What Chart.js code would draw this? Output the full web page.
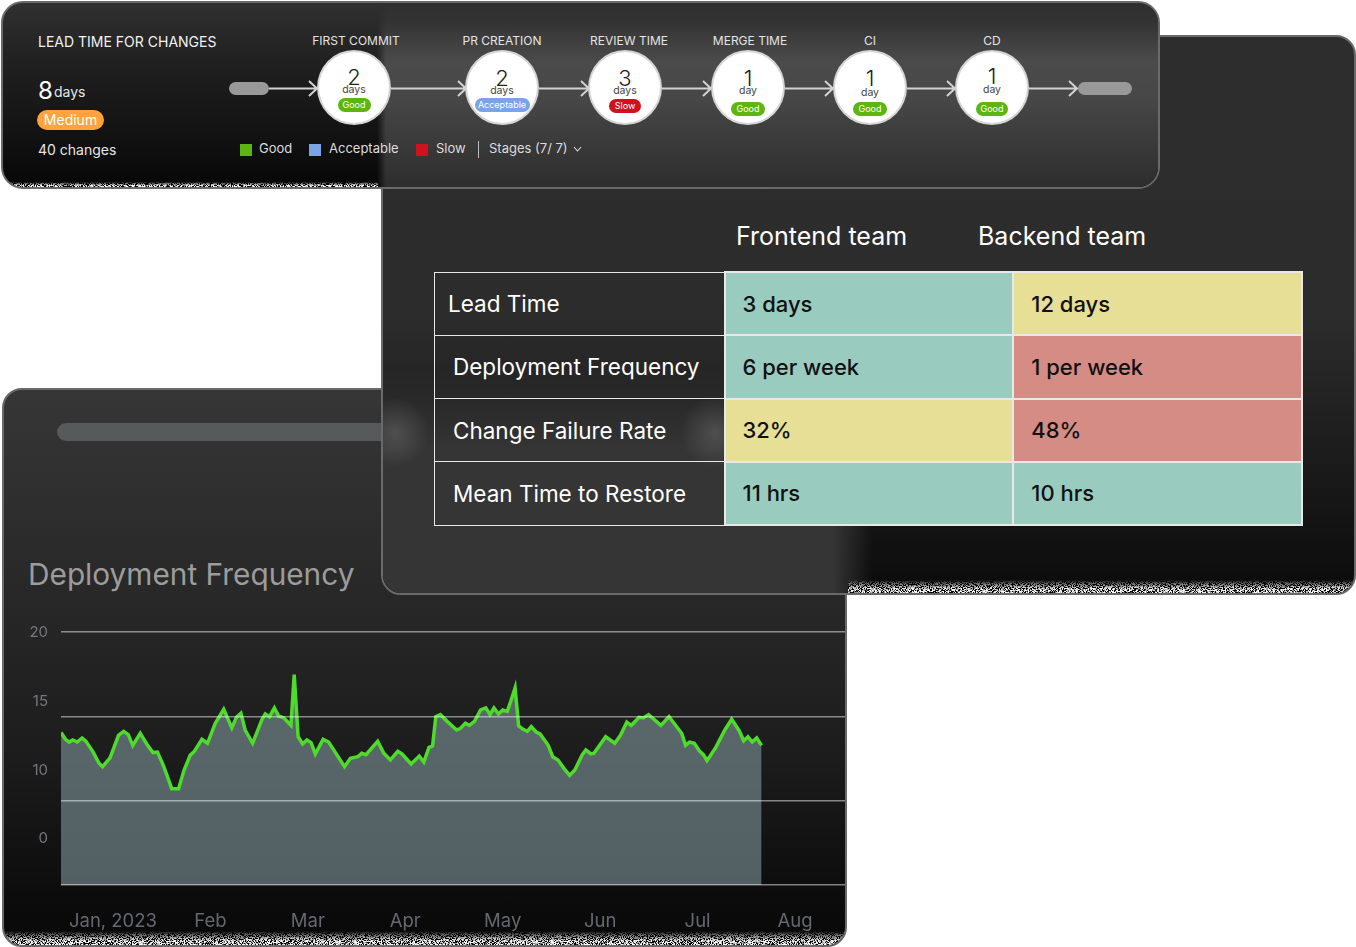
<!DOCTYPE html>
<html>
<head>
<meta charset="utf-8">
<title>Deployment Frequency</title>
<script src="https://cdn.jsdelivr.net/npm/chart.js@4/dist/chart.umd.min.js"></script>
<style>
    html, body { margin: 0; padding: 0; background: #fff; }
    body { width: 1356px; height: 947px; position: relative; overflow: hidden; font-family: Inter, "Noto Sans", sans-serif; }
    .panel { position: absolute; box-sizing: border-box; border: 2px solid #6a6a6a; overflow: hidden; }
    .abs { position: absolute; white-space: nowrap; line-height: 1; }
    .grain { position: absolute; left: 0; right: 0; background: #000; -webkit-mask-image: linear-gradient(to bottom, transparent, #000 70%); mask-image: linear-gradient(to bottom, transparent, #000 70%); }
    .grain svg { display: block; width: 100%; height: 100%; }
    #backPanel { left: 381px; top: 35px; width: 975px; height: 560px; border-radius: 20px; z-index: 2; background: linear-gradient(to bottom, #2d2d2d 0%, #2c2c2c 50%, #1c1c1c 75%, #0b0b0b 100%); }
    #glassLow { position: absolute; left: 0; top: 330px; width: 490px; height: 230px; background: #353535; -webkit-mask-image: linear-gradient(to right, #000 92%, transparent), linear-gradient(to bottom, transparent, #000 35%); -webkit-mask-composite: source-in; mask-image: linear-gradient(to right, #000 92%, transparent), linear-gradient(to bottom, transparent, #000 35%); mask-composite: intersect; }
    .blob { position: absolute; width: 70px; height: 70px; border-radius: 50%; background: radial-gradient(closest-side, rgba(255,255,255,0.15), rgba(255,255,255,0)); }
    #bottomPanel { left: 2px; top: 388px; width: 845px; height: 559px; border-radius: 20px; z-index: 1; background: linear-gradient(to bottom, #363636 0%, #262626 41.5%, #1c1c1c 66.5%, #0c0c0c 91.5%, #080808 100%); }
    #topPanel { left: 1px; top: 1px; width: 1159px; height: 188px; border-radius: 22px; z-index: 3; background: linear-gradient(to bottom, #303030 0%, #1f1f1f 35%, #111 75%, #070707 100%); }
    #topGlass { position: absolute; left: 374px; top: 0; bottom: 0; right: 0; background: linear-gradient(to bottom, #2f2f2f 0%, #333 10%, #4b4b4b 32%, #474747 52%, #353535 85%, #2e2e2e 100%); -webkit-mask-image: linear-gradient(to right, transparent, #000 9px); mask-image: linear-gradient(to right, transparent, #000 9px); }
    #trackBar { position: absolute; left: 53px; top: 33px; width: 342px; height: 18px; border-radius: 9px; background: #565a5a; }
    #deployChart { position: absolute; left: -2px; top: 222px; }
    #doraTable { position: absolute; left: 51px; top: 234px; width: 869px; height: 255px; border-collapse: collapse; table-layout: fixed; }
    #doraTable td { border: 2px solid #e8e8e8; font-size: 22px; font-weight: 500; padding: 0 0 0 17px; color: #111; box-sizing: border-box; }
    #doraTable td.name { color: #fff; font-size: 22.5px; font-weight: 400; width: 290px; border-width: 1.5px; }
    .circle { position: absolute; top: 47px; width: 74px; height: 75px; box-sizing: border-box; border-radius: 50%; background: #fff; border: 2px solid #d5d5d5; }
    .pill { position: absolute; border-radius: 7px; color: #fff; font-size: 9px; text-align: center; line-height: 14px; height: 14px; }
</style>
</head>
<body>

<div class="panel" id="bottomPanel">
    <div id="trackBar"></div>
    <div class="abs" style="left:24px; top:170px; font-size:29.8px; color:#9c9c9c;">Deployment Frequency</div>
    <canvas id="deployChart" width="845" height="328"></canvas>
    <div class="grain" style="bottom:0; height:14px;"><svg><rect width="100%" height="100%" filter="url(#grainFilter)"/></svg></div>
</div>

<div class="panel" id="backPanel">
    <div id="glassLow"></div>
    <div class="blob" style="left:-23px; top:360px;"></div>
    <div class="blob" style="left:297px; top:360px;"></div>
    <div class="abs" style="left:353px; top:187px; font-size:25px; color:#fff;">Frontend team</div>
    <div class="abs" style="left:595px; top:187px; font-size:25px; color:#fff;">Backend team</div>
    <table id="doraTable"><tbody id="doraBody"></tbody></table>
    <div class="grain" style="left:465px; bottom:0; height:13px;"><svg><rect width="100%" height="100%" filter="url(#grainFilter)"/></svg></div>
</div>

<div class="panel" id="topPanel">
    <div id="topGlass"></div>
    <div class="grain" style="right:780px; bottom:0; height:5px;"><svg><rect width="100%" height="100%" filter="url(#grainFilter)"/></svg></div>
    <div class="abs" style="left:35px; top:32px; font-size:14px; color:#f2f2f2;">LEAD TIME FOR CHANGES</div>
    <div class="abs" style="left:35px; top:76px; font-size:24px; color:#fff;">8</div>
    <div class="abs" style="left:51px; top:82px; font-size:14px; color:#e6e6e6;">days</div>
    <div class="abs" style="left:34px; top:107px; width:67px; height:20px; border-radius:10px; background:#ffa33a; color:#fff; font-size:14px; line-height:20px; text-align:center;">Medium</div>
    <div class="abs" style="left:35px; top:140px; font-size:14px; color:#e6e6e6;">40 changes</div>

    <div class="abs" style="left:237px; top:141px; width:12px; height:12px; background:#5db512;"></div>
    <div class="abs" style="left:256px; top:139px; font-size:13px; color:#dcdcdc;">Good</div>
    <div class="abs" style="left:306px; top:141px; width:12px; height:12px; background:#7ba3e8;"></div>
    <div class="abs" style="left:326px; top:139px; font-size:13px; color:#dcdcdc;">Acceptable</div>
    <div class="abs" style="left:413px; top:141px; width:12px; height:12px; background:#d0121e;"></div>
    <div class="abs" style="left:433px; top:139px; font-size:13px; color:#dcdcdc;">Slow</div>
    <div class="abs" style="left:475px; top:138px; width:1px; height:17px; background:#bdbdbd;"></div>
    <div class="abs" style="left:486px; top:139px; font-size:13px; color:#dcdcdc;">Stages (7/ 7)</div>

    <svg id="flowLines" style="position:absolute; left:0; top:0;" width="1156" height="186" fill="none"></svg>
    <div id="stageLayer"></div>
</div>

<svg width="0" height="0" style="position:absolute">
    <filter id="grainFilter" x="0" y="0" width="100%" height="100%">
        <feTurbulence type="fractalNoise" baseFrequency="1.3" numOctaves="2" seed="7"/>
        <feColorMatrix type="matrix" values="7 0 0 0 -3.1  7 0 0 0 -3.1  7 0 0 0 -3.1  0 0 0 0 1"/>
    </filter>
</svg>

<script>
// Lead time stages (top panel)
const stageNames = ['FIRST COMMIT', 'PR CREATION', 'REVIEW TIME', 'MERGE TIME', 'CI', 'CD'];
const stageValues = ['2', '2', '3', '1', '1', '1'];
const stageUnits = ['days', 'days', 'days', 'day', 'day', 'day'];
const stageRatings = ['Good', 'Acceptable', 'Slow', 'Good', 'Good', 'Good'];
const ratingColors = { Good: '#5db512', Acceptable: '#7ba3e8', Slow: '#d0121e' };

// DORA table
const metricNames = ['Lead Time', 'Deployment Frequency', 'Change Failure Rate', 'Mean Time to Restore'];
const frontendValues = ['3 days', '6 per week', '32%', '11 hrs'];
const backendValues = ['12 days', '1 per week', '48%', '10 hrs'];
const frontendLevels = ['good', 'good', 'warn', 'good'];
const backendLevels = ['warn', 'bad', 'bad', 'good'];
const levelColors = { good: '#9acbbf', warn: '#e8df97', bad: '#d58c85' };

// Deployment frequency series
const monthLabels = ['Jan, 2023', 'Feb', 'Mar', 'Apr', 'May', 'Jun', 'Jul', 'Aug'];
const monthTicks = [16, 46, 76, 106, 136, 166, 196, 226];
const yTickValues = [20, 15, 10, 5];
const yTickLabels = ['20', '15', '10', '0'];
const dayOffsets = [
    0, 1.4, 2.5, 3.6, 5, 6.5, 7.7, 10, 11.7, 12.8, 15.1, 17.7, 19.3, 20.7, 22.1, 24.4, 26.4, 28.3, 29.7, 31.6,
    34.1, 36.2, 37.9, 39.8, 41, 43.4, 45.1, 47.5, 50.1, 52.6, 54, 55.4, 56.7, 59, 61.9, 62.9, 64.2, 65.7, 67, 68.6,
    70.8, 71.8, 73, 74.4, 75.7, 77, 78.3, 80.7, 82.4, 87.3, 89.1, 91.4, 92.6, 93.9, 97.5, 99.4, 101.4, 103.7, 105, 107.8,
    110.3, 111.7, 113.3, 114.4, 115.4, 116.8, 118.9, 121.8, 122.9, 124.5, 125.7, 127.3, 129.2, 130.8, 132.1, 133.3, 134.7, 136, 137.4, 138.6,
    139.8, 140.9, 142.3, 143.6, 144.8, 146.3, 147.5, 150, 151.4, 153, 154.9, 156.6, 158.2, 160.5, 161.6, 163.1, 164.1, 167.7, 170.5, 172.3,
    174.2, 175.6, 178, 179.3, 180.9, 184.7, 187.2, 191.1, 192.3, 193.5, 195, 196.5, 197.8, 198.9, 201.6, 204.4, 206.5, 208.8, 210.2, 211.5,
    212.8, 214.2, 215.7
];
const deployments = [
    12.73, 12.24, 12.04, 12.19, 12.04, 12.34, 12.09, 11.27, 10.49, 10.24, 10.88, 12.53, 12.82, 12.58, 11.8, 12.68, 11.9, 11.27, 11.31, 10.29,
    8.64, 8.64, 10, 11.09, 11.34, 12.24, 11.95, 13.41, 14.43, 13.07, 13.84, 14.14, 12.92, 11.95, 13.7, 14.09, 13.89, 14.53, 13.94, 13.8,
    13.26, 16.96, 12.43, 11.9, 12.19, 12, 11.17, 12.24, 12.04, 10.24, 10.85, 10.97, 11.22, 11.12, 12.09, 11.22, 10.73, 11.36, 11.17, 10.44,
    11.02, 10.58, 11.65, 11.75, 13.89, 14.04, 13.55, 12.92, 13.02, 13.41, 13.26, 13.55, 14.38, 14.53, 14.04, 14.53, 14.09, 14.38, 14.28, 15.11,
    15.99, 13.21, 12.97, 12.82, 13.16, 12.77, 12.63, 11.8, 10.97, 10.73, 10.1, 9.61, 10, 11.12, 11.46, 11.17, 11.22, 12.43, 11.95, 12.55,
    13.5, 13.26, 13.84, 13.8, 14.04, 13.26, 13.89, 12.68, 11.8, 12.04, 11.95, 11.41, 11.12, 10.68, 11.65, 12.92, 13.7, 12.87, 12.14, 12.43,
    12.04, 12.34, 11.8
];

// ---- top panel ----
const stageCenters = [351, 499, 622, 745, 867, 989];
const titleCenters = [353, 499, 626, 747, 867, 989];
const numberTops = [63, 64, 64, 64, 64, 62];
const unitTops = [82, 83, 83, 83, 85, 82];
const pillTops = [95, 95, 96, 99, 99, 99];
const pillWidths = [33, 55, 32, 34, 34, 32];
const stageLayer = document.getElementById('stageLayer');
stageNames.forEach((name, i) => {
    const c = stageCenters[i];
    stageLayer.insertAdjacentHTML('beforeend', `
        <div class="abs" style="left:${c - 60}px; width:120px; top:32px; text-align:center; font-size:12px; color:#e4e4e4; transform:translateX(${titleCenters[i] - c}px);">${name}</div>
        <div class="circle" style="left:${c - 37}px;"></div>
        <div class="abs" style="left:${c - 20}px; width:40px; top:${numberTops[i]}px; text-align:center; font-size:22px; font-weight:300; color:#222;">${stageValues[i]}</div>
        <div class="abs" style="left:${c - 20}px; width:40px; top:${unitTops[i]}px; text-align:center; font-size:10.5px; color:#444;">${stageUnits[i]}</div>
        <div class="pill" style="left:${c - pillWidths[i] / 2}px; width:${pillWidths[i]}px; top:${pillTops[i]}px; background:${ratingColors[stageRatings[i]]};">${stageRatings[i]}</div>
    `);
});

// connector arrows and the two end caps
const arrowFrom = [266, 388, 536, 659, 782, 904, 1026];
const arrowTo = [314, 463, 586, 708, 830, 952, 1074];
let flow = '<rect x="226" y="79" width="40" height="13" rx="6.5" fill="#999"/><rect x="1075" y="79" width="54" height="13" rx="6.5" fill="#999"/>';
arrowFrom.forEach((x1, i) => {
    const x2 = arrowTo[i];
    flow += `<path d="M${x1} 85.5H${x2}M${x2 - 8} 78l8 7.5l-8 7.5" stroke="#d2d2d2" stroke-width="2"/>`;
});
flow += '<path d="M571 144l3.5 4l3.5 -4" stroke="#dcdcdc" stroke-width="1.1"/>';
document.getElementById('flowLines').innerHTML = flow;

// ---- table ----
document.getElementById('doraBody').innerHTML = metricNames.map((name, i) => `
    <tr>
        <td class="name" style="padding-left:${i === 0 ? 13 : 18}px;">${name}</td>
        <td style="background:${levelColors[frontendLevels[i]]};">${frontendValues[i]}</td>
        <td style="background:${levelColors[backendLevels[i]]};">${backendValues[i]}</td>
    </tr>`).join('');

// ---- chart ----
const fixedTicks = values => axis => { axis.ticks = values.map(value => ({ value })); };

new Chart(document.getElementById('deployChart'), {
    type: 'line',
    data: {
        datasets: [{
            label: 'Deployment Frequency',
            data: dayOffsets.map((x, i) => ({ x, y: deployments[i] })),
            borderColor: '#4fdb2c',
            borderWidth: 3.5,
            backgroundColor: 'rgba(128, 150, 156, 0.6)',
            fill: 'start',
            pointRadius: 0,
            tension: 0,
            yAxisID: 'y'
        }]
    },
    options: {
        responsive: false,
        animation: false,
        devicePixelRatio: 1,
        layout: { padding: { top: 20, right: 0, left: 0, bottom: 0 } },
        plugins: { legend: { display: false }, tooltip: { enabled: false } },
        scales: {
            x: {
                type: 'linear',
                min: 0,
                max: 242,
                grid: { display: false },
                border: { display: false },
                afterBuildTicks: fixedTicks(monthTicks),
                afterFit: axis => { axis.height = 55; },
                ticks: {
                    autoSkip: false,
                    maxRotation: 0,
                    padding: 17,
                    color: '#66686f',
                    font: { family: 'Inter', size: 18.5 },
                    callback: value => monthLabels[monthTicks.indexOf(value)]
                }
            },
            y: {
                type: 'linear',
                position: 'left',
                min: 1.61,
                max: 20.07,
                grid: { display: false },
                border: { display: false },
                afterBuildTicks: fixedTicks(yTickValues),
                afterFit: axis => { axis.width = 59; },
                ticks: {
                    padding: 5,
                    color: '#77777c',
                    font: { family: 'Inter', size: 15 },
                    callback: value => yTickLabels[yTickValues.indexOf(value)]
                }
            },
            // the horizontal rules of the picture do not line up with its tick labels
            yRules: {
                type: 'linear',
                position: 'left',
                min: 0,
                max: 3,
                border: { display: false },
                grid: { color: 'rgba(255, 255, 255, 0.48)', lineWidth: 1.5, drawTicks: false, z: 1 },
                afterBuildTicks: fixedTicks([0, 1, 2, 3]),
                afterFit: axis => { axis.width = 0; },
                ticks: { display: false }
            }
        }
    }
});
</script>
</body>
</html>
